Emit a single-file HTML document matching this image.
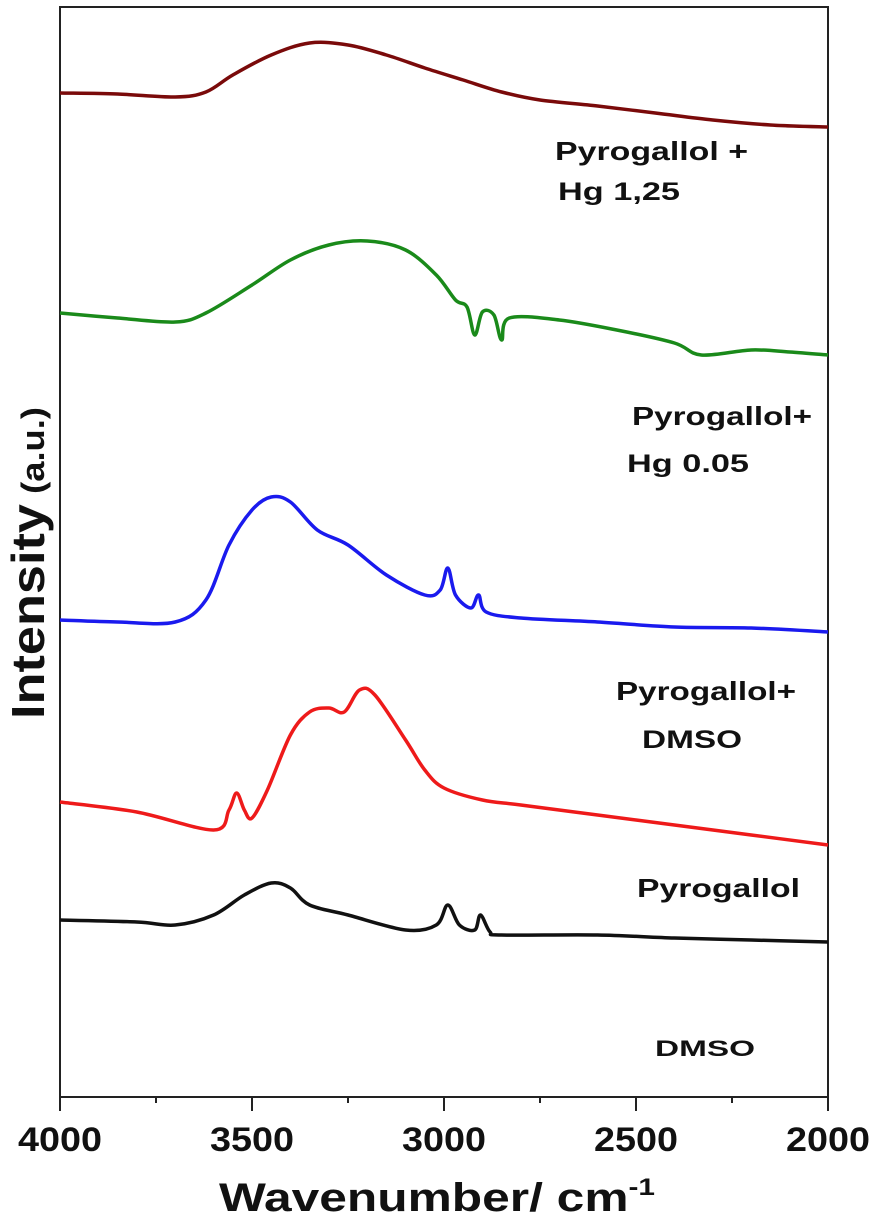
<!DOCTYPE html>
<html><head><meta charset="utf-8"><style>
html,body{margin:0;padding:0;background:#fff}
svg{display:block;font-family:"Liberation Sans",Arial,sans-serif}
</style></head><body>
<svg id="chart" width="874" height="1219" viewBox="0 0 874 1219" xmlns="http://www.w3.org/2000/svg">
<rect x="60" y="7" width="768" height="1090" fill="none" stroke="#222" stroke-width="2"/>
<g id="ticks"></g>
<g id="series"></g>
<g font-weight="bold" fill="#111">
<text x="555" y="160" font-size="26" textLength="193" lengthAdjust="spacingAndGlyphs">Pyrogallol +</text>
<text x="558" y="200" font-size="25" textLength="122" lengthAdjust="spacingAndGlyphs">Hg 1,25</text>
<text x="632" y="425" font-size="26" textLength="180" lengthAdjust="spacingAndGlyphs">Pyrogallol+</text>
<text x="627" y="472" font-size="25" textLength="122" lengthAdjust="spacingAndGlyphs">Hg 0.05</text>
<text x="616" y="700" font-size="26" textLength="180" lengthAdjust="spacingAndGlyphs">Pyrogallol+</text>
<text x="642" y="748" font-size="25" textLength="100" lengthAdjust="spacingAndGlyphs">DMSO</text>
<text x="637" y="897" font-size="26" textLength="163" lengthAdjust="spacingAndGlyphs">Pyrogallol</text>
<text x="655" y="1056" font-size="22" textLength="100" lengthAdjust="spacingAndGlyphs">DMSO</text>
</g>
<text transform="translate(44,563) rotate(-90)" text-anchor="middle" font-weight="bold" fill="#111" textLength="312" lengthAdjust="spacingAndGlyphs"><tspan font-size="46">Intensity</tspan><tspan font-size="32"> (a.u.)</tspan></text>
<text x="437" y="1211" text-anchor="middle" font-weight="bold" font-size="40" fill="#111" textLength="436" lengthAdjust="spacingAndGlyphs">Wavenumber/ cm<tspan font-size="24" dy="-16">-1</tspan></text>
</svg>
<script>
const xTicks=[4000,3500,3000,2500,2000];
const xMinor=[3750,3250,2750,2250];
const tickLabels=["4000","3500","3000","2500","2000"];
const seriesNames=["pyrogallol-hg125","pyrogallol-hg005","pyrogallol-dmso","pyrogallol","dmso"];
const seriesColors=["#7a0a0a","#1a8a1a","#1a1aee","#ee1a1a","#111111"];
const wnBrown=[4000,3850,3700,3620,3550,3450,3350,3250,3150,3050,2950,2850,2750,2600,2450,2300,2150,2000];
const ivBrown=[1004,1003,1000,1005,1022,1042,1054,1052,1042,1029,1017,1005,997,991,984,977,972,970];
const wnGreen=[4000,3850,3700,3620,3500,3400,3300,3200,3100,3020,2970,2940,2920,2900,2870,2850,2830,2700,2550,2400,2330,2200,2100,2000];
const ivGreen=[784,779,775,784,812,837,852,856,847,822,797,790,762,785,782,757,779,777,767,754,742,747,745,742];
const wnBlue=[4000,3850,3700,3620,3560,3500,3450,3400,3330,3250,3150,3050,3010,2990,2970,2930,2910,2890,2800,2600,2400,2200,2000];
const ivBlue=[477,475,475,497,552,587,600,595,567,552,522,502,507,529,502,489,502,485,479,475,470,469,465];
const wnRed=[4000,3800,3600,3560,3540,3520,3500,3460,3400,3350,3300,3260,3220,3180,3100,3050,3000,2900,2800,2600,2400,2200,2000];
const ivRed=[295,285,267,287,304,287,279,307,362,385,389,385,407,402,357,327,309,297,292,282,272,262,252];
const wnBlack=[4000,3800,3700,3600,3520,3450,3400,3350,3250,3100,3020,2990,2960,2920,2905,2880,2850,2600,2400,2200,2000];
const ivBlack=[177,175,172,182,202,214,209,192,182,167,172,192,172,167,182,165,162,162,159,157,155];
const allWn=[wnBrown,wnGreen,wnBlue,wnRed,wnBlack];
const allIv=[ivBrown,ivGreen,ivBlue,ivRed,ivBlack];
const NS="http://www.w3.org/2000/svg";
const L=60,R=828,B=1097;
function xs(w){return L+(4000-w)/(4000-2000)*(R-L);}
function ys(v){return B-v;}
const tg=document.getElementById('ticks');
xTicks.forEach((t,i)=>{
  const ln=document.createElementNS(NS,'line');
  
  
  ln.setAttribute('x1',xs(t));ln.setAttribute('x2',xs(t));ln.setAttribute('y1',B);ln.setAttribute('y2',B+14);
  ln.setAttribute('stroke','#222');ln.setAttribute('stroke-width','2');tg.appendChild(ln);
  const tx=document.createElementNS(NS,'text');
  
  
  tx.setAttribute('x',xs(t));tx.setAttribute('y',B+54);tx.setAttribute('text-anchor','middle');
  tx.setAttribute('font-size','34');tx.setAttribute('font-weight','bold');tx.setAttribute('fill','#111');
  tx.setAttribute('textLength','84');tx.setAttribute('lengthAdjust','spacingAndGlyphs');
  tx.textContent=tickLabels[i];tg.appendChild(tx);
});
xMinor.forEach(t=>{
  const ln=document.createElementNS(NS,'line');
  
  
  ln.setAttribute('x1',xs(t));ln.setAttribute('x2',xs(t));ln.setAttribute('y1',B);ln.setAttribute('y2',B+6);
  ln.setAttribute('stroke','#222');ln.setAttribute('stroke-width','2');tg.appendChild(ln);
});
const sg=document.getElementById('series');
allWn.forEach((wn,k)=>{
  const iv=allIv[k];
  const pts=wn.map((w,i)=>[xs(w),ys(iv[i])]);
  let d='M'+pts[0][0].toFixed(1)+' '+pts[0][1].toFixed(1);
  for(let i=0;i<pts.length-1;i++){
    const p0=pts[Math.max(0,i-1)],p1=pts[i],p2=pts[i+1],p3=pts[Math.min(pts.length-1,i+2)];
    const c1x=p1[0]+(p2[0]-p0[0])/6,c1y=p1[1]+(p2[1]-p0[1])/6;
    const c2x=p2[0]-(p3[0]-p1[0])/6,c2y=p2[1]-(p3[1]-p1[1])/6;
    d+=' C'+c1x.toFixed(1)+' '+c1y.toFixed(1)+' '+c2x.toFixed(1)+' '+c2y.toFixed(1)+' '+p2[0].toFixed(1)+' '+p2[1].toFixed(1);
  }
  const p=document.createElementNS(NS,'path');
  
  
  p.setAttribute('d',d);p.setAttribute('fill','none');p.setAttribute('stroke',seriesColors[k]);
  p.setAttribute('stroke-width','3.5');p.setAttribute('stroke-linejoin','round');
  sg.appendChild(p);
});
</script>
</body></html>
